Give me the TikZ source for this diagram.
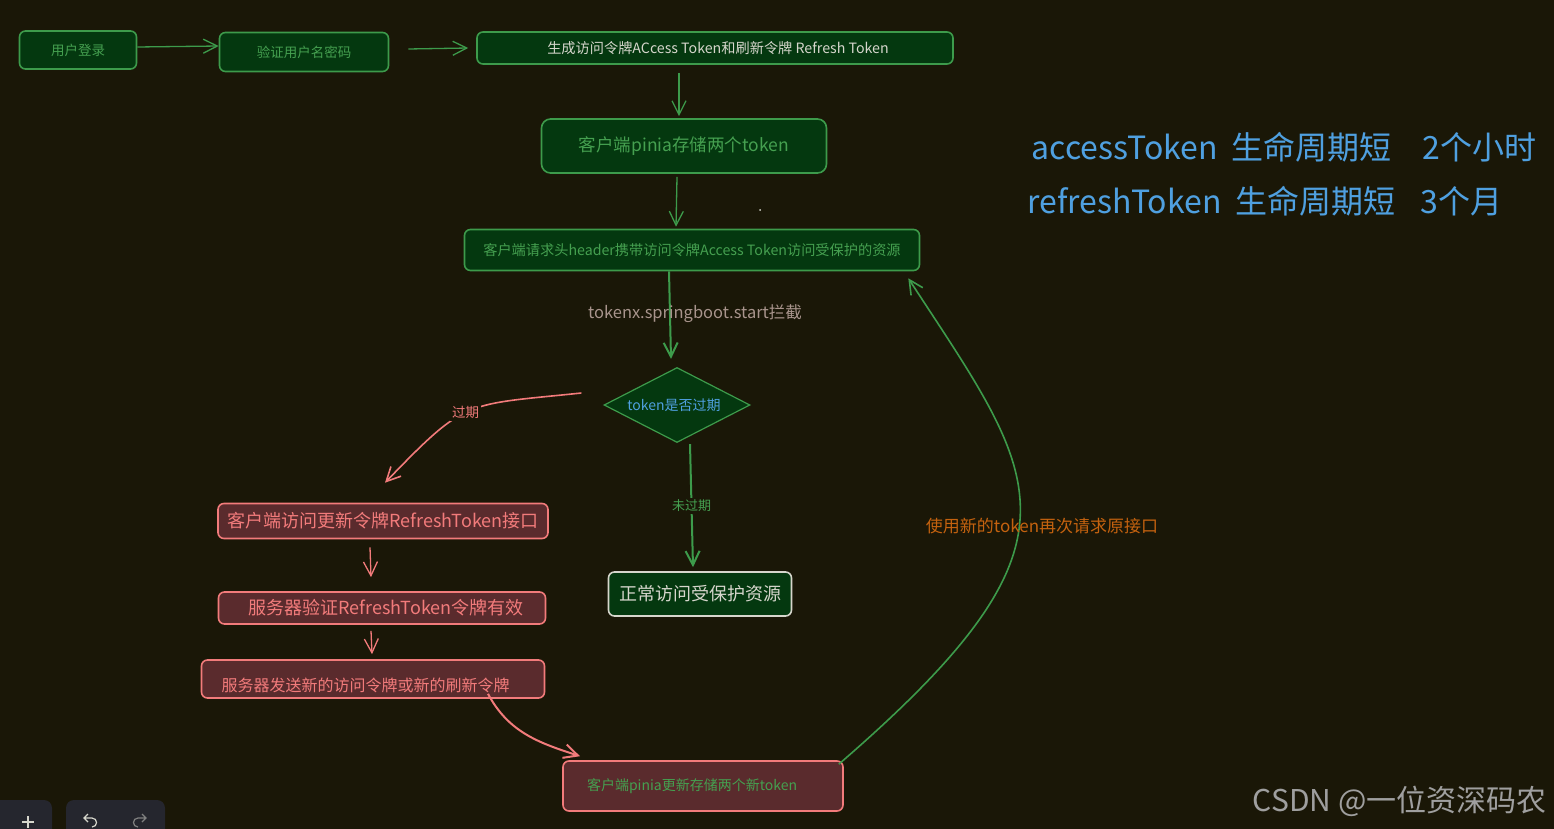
\documentclass[tikz,border=0pt]{standalone}
\usepackage{fontspec}
\setmainfont{Noto Sans CJK SC}
\usepackage{xcolor}
\usepackage{tikz}
\usetikzlibrary{shapes.geometric, arrows.meta}

\definecolor{bg}{HTML}{1A1707}
\definecolor{boxfill}{HTML}{04380F}
\definecolor{boxline}{HTML}{3D9B4B}
\definecolor{redfill}{HTML}{5A2B2D}
\definecolor{redline}{HTML}{F27B7B}
\definecolor{greentext}{HTML}{45A050}
\definecolor{lighttext}{HTML}{D6D6CC}
\definecolor{bluetext}{HTML}{4FA0E0}
\definecolor{graytext}{HTML}{A8948C}
\definecolor{orangetext}{HTML}{C4620F}
\definecolor{barfill}{HTML}{25262E}

\tikzset{
  greenbox/.style = {draw = boxline, fill = boxfill, line width = 1.6pt, rounded corners = 6pt, inner sep = 0pt, text = greentext},
  redbox/.style = {draw = redline, fill = redfill, line width = 1.6pt, rounded corners = 6pt, inner sep = 0pt, text = redline},
  arr/.style = {draw = boxline, line width = 1.3pt, -{Straight Barb[length = 14pt, width = 14pt]}},
  redarr/.style = {draw = redline, line width = 1.3pt, -{Straight Barb[length = 14pt, width = 14pt]}},
  fs/.style = {font = \fontsize{#1}{#1}\selectfont},
}

\begin{document}
\begin{tikzpicture}[x = 1pt, y = -1pt]
    \fill[bg] (0, 0) rectangle (1554, 829);
    \useasboundingbox (0, 0) rectangle (1554, 829);
    {
      \node[greenbox, fs = 13.5, minimum width = 117pt, minimum height = 38pt] (login) at (78, 50) {用户登录};
      \node[greenbox, fs = 13.5, minimum width = 169pt, minimum height = 39pt] (check) at (304, 52) {验证用户名密码};
      \node[greenbox, fs = 14.2, text = lighttext, minimum width = 476pt, minimum height = 32pt] (gen) at (715, 48) {\hspace{6pt}生成访问令牌ACcess Token和刷新令牌 Refresh Token};
      \node[greenbox, fs = 17.5, minimum width = 285pt, minimum height = 54pt, rounded corners = 9pt] (store) at (684, 146) {客户端pinia存储两个token};
      \node[greenbox, fs = 14.2, minimum width = 455pt, minimum height = 41pt] (header) at (692, 250) {客户端请求头header携带访问令牌Access Token访问受保护的资源};
      \node[diamond, draw = boxline, fill = boxfill, line width = 1.2pt, aspect = 1.95, minimum width = 146pt, minimum height = 75pt, inner sep = 0pt, text = bluetext, fs = 14] (expire) at (677, 405) {\hspace{-6pt}token是否过期};
      \node[greenbox, draw = lighttext, text = lighttext, fs = 18, minimum width = 183pt, minimum height = 44pt] (normal) at (700, 594) {正常访问受保护资源};
    }
    {
      \node[redbox, fs = 18, minimum width = 330pt, minimum height = 35pt] (renew) at (383, 521) {客户端访问更新令牌RefreshToken接口};
      \node[redbox, fs = 18, minimum width = 327pt, minimum height = 32pt] (verify) at (382, 608) {\hspace{8pt}服务器验证RefreshToken令牌有效};
      \node[redbox, fs = 16, minimum width = 343pt, minimum height = 38pt, text width = 323pt, inner xsep = 10pt, align = left, text height = 26pt, text depth = 2pt] (send) at (373, 679) {\hspace{10pt}服务器发送新的访问令牌或新的刷新令牌};
      \node[redbox, fs = 14, text = greentext, minimum width = 280pt, minimum height = 50pt, text width = 232pt, inner xsep = 24pt, align = left] (newstore) at (703, 786) {客户端pinia更新存储两个新token};
    }
    \draw[arr] ([yshift = 3pt]login.east) -- ([yshift = 6pt]check.west);
    \draw[arr] ([xshift = 19pt, yshift = 3pt]check.east) -- ([xshift = -8pt]gen.west);
    \draw[arr] ([xshift = -36pt, yshift = -8pt]gen.south) -- ([xshift = -5pt, yshift = 2pt]store.north);
    \draw[arr] ([xshift = -7pt, yshift = -3pt]store.south) -- ([xshift = -16pt, yshift = 2pt]header.north);
    \draw[arr, line width = 2pt] ([xshift = -23pt]header.south) -- ([xshift = -6pt, yshift = 8pt]expire.north);
    \node[fs = 16.5, text = graytext] (intercept) at (695, 314) {tokenx.springboot.start拦截};
    \draw[arr, line width = 2pt] ([xshift = 13pt, yshift = -1pt]expire.south) -- node[fill = bg, fs = 13, text = greentext, inner sep = 2pt] (fresh) {未过期} ([xshift = -7pt, yshift = 4pt]normal.north);
    \draw[redarr, line width = 1.6pt] ([xshift = -22pt, yshift = 12pt]expire.west) to[out = 186, in = 46, looseness = 1.4] node[pos = 0.53, fill = bg, fs = 13.5, text = redline, inner sep = 2pt] (stale) {过期} ([xshift = 2pt, yshift = 20pt]renew.north);
    \draw[redarr] ([xshift = -13pt, yshift = -8pt]renew.south) -- ([xshift = -11pt, yshift = 14pt]verify.north);
    \draw[redarr] ([xshift = -11pt, yshift = -6pt]verify.south) -- ([xshift = -1pt, yshift = 5pt]send.north);
    \draw[redarr, line width = 2pt] ([xshift = 115pt, yshift = 5pt]send.south) to[out = -62, in = 162] ([xshift = -123pt, yshift = 4pt]newstore.north);
    \draw[arr, line width = 1.6pt] ([xshift = -5pt, yshift = -4pt]newstore.north east) .. controls (1098, 540) and (1040, 480) .. ([xshift = -12pt, yshift = -7pt]header.south east);
    \node[fs = 17, text = orangetext] (retry) at (1042, 526) {使用新的token再次请求原接口};
    \fill[lighttext] (760, 210) circle (1pt);
    \node[anchor = west, fs = 32, text = bluetext] (accesslife) at (1028, 147) {accessToken\hspace{14pt}生命周期短\hspace{31pt}2个小时};
    \node[anchor = west, fs = 32, text = bluetext] (refreshlife) at (1024, 201) {refreshToken\hspace{14pt}生命周期短\hspace{25pt}3个月};
    \node[anchor = east, fs = 30, text = gray!75!white] (mark) at (1550, 801) {CSDN @一位资深码农};
    {
      \filldraw[fill = barfill, draw = none, rounded corners = 8pt] (-10, 800) rectangle (52, 845);
      \filldraw[fill = barfill, draw = none, rounded corners = 8pt] (66, 800) rectangle (165, 845);
      \draw[lighttext, line width = 1.2pt] (22, 822) -- (34, 822) (28, 816) -- (28, 828);
      \draw[lighttext, line width = 1.2pt] (88, 814) -- (84, 818) -- (88, 822) (84, 818) -- (92, 818) .. controls (98, 818) and (98, 827) .. (92, 827);
      \draw[gray, line width = 1.2pt] (142, 814) -- (146, 818) -- (142, 822) (146, 818) -- (138, 818) .. controls (132, 818) and (132, 827) .. (138, 827);
    }
  \end{tikzpicture}
\end{document}
